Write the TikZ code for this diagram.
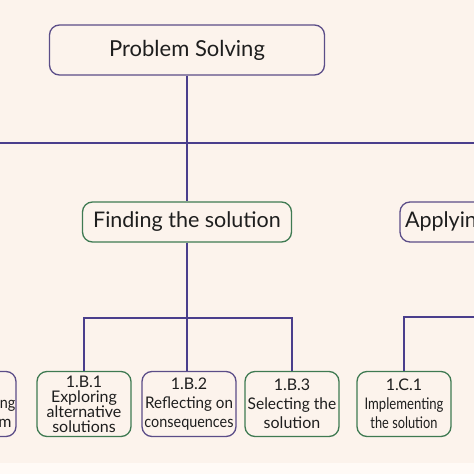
\documentclass[tikz,border=0pt]{standalone}
\usepackage{fontspec}
\setmainfont{Lato}
\definecolor{bg}{HTML}{FCF3EC}
\definecolor{bgb}{HTML}{FFFAF6}
\definecolor{lp}{HTML}{4A3E8C}
\definecolor{bp}{HTML}{5B4D88}
\definecolor{bgr}{HTML}{3F7A52}
\definecolor{txt}{HTML}{1E1E1E}
\tikzset{
  box/.style={draw=bp, line width=1.3pt, rounded corners=10pt, fill=bg, inner sep=0pt,
    align=center, text=txt},
  grbox/.style={box, draw=bgr},
  leaf/.style={minimum width=94pt, minimum height=65pt, font=\fontsize{16}{15}\selectfont},
  conn/.style={draw=lp, line width=1.4pt},
}
\begin{document}
\begin{tikzpicture}[x=1pt,y=1pt]
\useasboundingbox (0,0) rectangle (474,-474);
\fill[bg] (0,0) rectangle (474,-474);
\fill[bgb] (0,-463) rectangle (474,-474);
% top
\node[box, minimum width=275pt, minimum height=50pt, font=\fontsize{22}{24}\selectfont] (ps) at (187,-50) {Problem Solving};
\node[grbox, minimum width=209pt, minimum height=40pt, font=\fontsize{21.5}{24}\selectfont] (fs) at (187,-222) {Finding the solution};
\node[box, minimum width=240pt, minimum height=40pt, font=\fontsize{21.5}{24}\selectfont, text width=230pt, align=left] (as) at (520,-222) {Applying the solution};
\coordinate (hl) at (-20,-143);
\coordinate (hr) at (500,-143);
% leaves
\node[box, leaf] (a3) at (-31,-404) {1.A.3\\[4pt]\scalebox{0.9}[1]{Understanding}\\[4pt]the problem};
\node[grbox, leaf] (b1) at (84,-404) {1.B.1\\Exploring\\alternative\\solutions};
\node[box, leaf] (b2) at (189,-404) {1.B.2\\[4pt]\scalebox{0.95}[1]{Reflecting on}\\[4pt]\scalebox{0.9}[1]{consequences}};
\node[grbox, leaf] (b3) at (292,-404) {1.B.3\\[4pt]\scalebox{0.97}[1]{Selecting the}\\[4pt]solution};
\node[grbox, leaf] (c1) at (404,-404) {1.C.1\\[4pt]\scalebox{0.82}[1]{Implementing}\\[4pt]\scalebox{0.8}[1]{the solution}};
\coordinate (busB) at (188,-318);
\coordinate (busC) at (500,-317);
% connectors
\draw[conn] (ps.south) -- (fs.north);
\draw[conn] (hl) -- (hr);
\draw[conn] (fs.south) -- (fs.south |- b2.north);
\draw[conn] (b1.north) |- (busB) -| (b3.north);
\draw[conn] (c1.north) |- (busC);
\end{tikzpicture}
\end{document}
